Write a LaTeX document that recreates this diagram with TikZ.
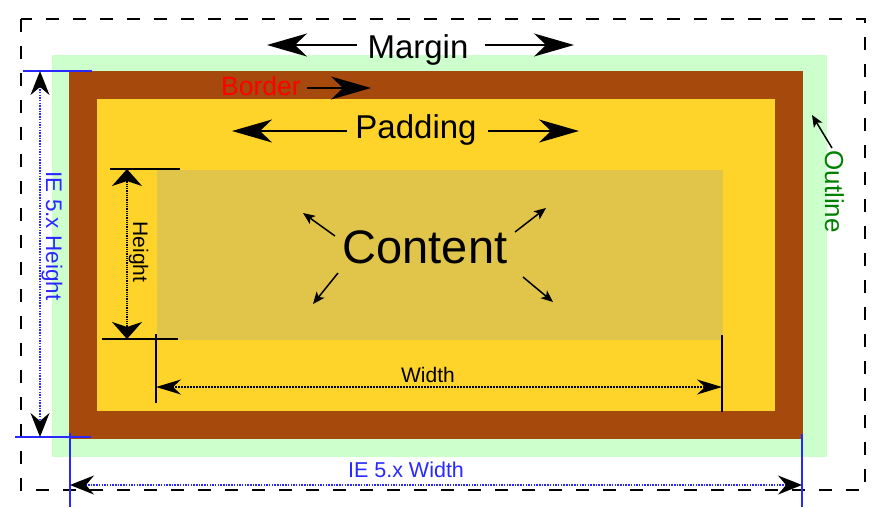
\documentclass[tikz,border=0pt]{standalone}
\usepackage{fontspec}
\setmainfont{Liberation Sans}
\usetikzlibrary{arrows.meta}
\definecolor{marginfill}{RGB}{204,255,204}
\definecolor{borderfill}{RGB}{165,74,12}
\definecolor{paddingfill}{RGB}{255,212,42}
\definecolor{contentfill}{RGB}{225,196,74}
\definecolor{ieblue}{RGB}{40,40,255}
\definecolor{outlinegreen}{RGB}{0,128,0}
\begin{document}
\begin{tikzpicture}[x=1pt,y=-1pt,
  lbl/.style={inner sep=0pt,anchor=base},
  bigarrow/.style={line width=1.8pt,-{Stealth[length=40pt,width=23pt,inset=12pt]}},
  smallarrow/.style={line width=1.5pt,-{Stealth[length=12pt,width=10pt,inset=3pt]}},
  heightarrow/.style={line width=1.6pt,dash pattern=on 1pt off 0.8pt,{Stealth[length=17pt,width=30pt,inset=5pt]}-{Stealth[length=17pt,width=30pt,inset=5pt]}},
  widtharrow/.style={line width=1.6pt,dash pattern=on 1.5pt off 1.5pt,{Stealth[length=25pt,width=15pt,inset=8pt]}-{Stealth[length=25pt,width=15pt,inset=8pt]}},
  iearrow/.style={ieblue,line width=1.5pt,dash pattern=on 1.5pt off 1.2pt,{Stealth[length=24pt,width=19pt,inset=8pt,black]}-{Stealth[length=24pt,width=19pt,inset=8pt,black]}},
  tick/.style={line width=1.3pt},
  ietick/.style={ieblue,line width=1.5pt},
  boxdash/.style={line width=1.5pt,dash pattern=on 13pt off 14pt}
]
\useasboundingbox (0,0) rectangle (880,507);
% box layers
\fill[marginfill] (52,55) rectangle (827,457);
\fill[borderfill] (69,71) rectangle (803,439);
\fill[paddingfill] (97,99) rectangle (775,411);
\fill[contentfill] (157,170) rectangle (723,340);
\draw[boxdash] (21,19) rectangle (865,490);

% labels
\node[lbl,font=\fontsize{33}{40}\selectfont] (margin) at (418,58) {Margin};
\node[lbl,font=\fontsize{26.5}{32}\selectfont,text=red] (border) at (261,95) {Border};
\node[lbl,font=\fontsize{33}{40}\selectfont] (padding) at (416,138) {Padding};
\node[lbl,font=\fontsize{47}{56}\selectfont] (content) at (425,263) {Content};
\node[lbl,font=\fontsize{21}{25}\selectfont] (width) at (428,382) {Width};
\node[lbl,font=\fontsize{21.5}{26}\selectfont,text=ieblue] (iewidth) at (406,477) {IE 5.x Width};
\node[lbl,rotate=-90,font=\fontsize{21}{25}\selectfont] (height) at (133,252) {Height};
\node[lbl,rotate=-90,font=\fontsize{22.5}{27}\selectfont,text=ieblue] (ieheight) at (46,236) {IE 5.x Height};
\node[lbl,rotate=-90,font=\fontsize{26}{31}\selectfont,text=outlinegreen] (outline) at (825,191.5) {Outline};

% arrow end coordinates
\coordinate (mL0) at (357,45); \coordinate (mL1) at (267,45);
\coordinate (mR0) at (485,45); \coordinate (mR1) at (574,45);
\coordinate (b0) at (307,88);  \coordinate (b1) at (371,88);
\coordinate (pL0) at (347,131); \coordinate (pL1) at (232,131);
\coordinate (pR0) at (488,131); \coordinate (pR1) at (579,131);
\coordinate (c1a) at (335,236); \coordinate (c1b) at (303,213);
\coordinate (c2a) at (515,232); \coordinate (c2b) at (546,208);
\coordinate (c3a) at (338,273); \coordinate (c3b) at (313,304);
\coordinate (c4a) at (523,277); \coordinate (c4b) at (553,302);
\coordinate (o0) at (832,148); \coordinate (o1) at (812,115);

\draw[bigarrow] (mL0) -- (mL1);
\draw[bigarrow] (mR0) -- (mR1);
\draw[bigarrow] (b0) -- (b1);
\draw[bigarrow] (pL0) -- (pL1);
\draw[bigarrow] (pR0) -- (pR1);
\draw[smallarrow] (c1a) -- (c1b);
\draw[smallarrow] (c2a) -- (c2b);
\draw[smallarrow] (c3a) -- (c3b);
\draw[smallarrow] (c4a) -- (c4b);
\draw[smallarrow] (o0) -- (o1);

% height measure
\coordinate (hT0) at (110,169); \coordinate (hT1) at (180,169);
\coordinate (hB0) at (102,339); \coordinate (hB1) at (178,339);
\coordinate (hA0) at (127,169); \coordinate (hA1) at (127,339);
\draw[tick] (hT0) -- (hT1);
\draw[tick] (hB0) -- (hB1);
\draw[heightarrow] (hA0) -- (hA1);

% width measure
\coordinate (wL0) at (156,334); \coordinate (wL1) at (156,403);
\coordinate (wR0) at (722,335); \coordinate (wR1) at (722,412);
\coordinate (wA0) at (156,387); \coordinate (wA1) at (722,387);
\draw[tick] (wL0) -- (wL1);
\draw[tick] (wR0) -- (wR1);
\draw[widtharrow] (wA0) -- (wA1);

% IE height
\coordinate (ihT0) at (23,71); \coordinate (ihT1) at (92,71);
\coordinate (ihB0) at (15,437); \coordinate (ihB1) at (91,437);
\coordinate (ihA0) at (40,71); \coordinate (ihA1) at (40,437);
\draw[ietick] (ihT0) -- (ihT1);
\draw[ietick] (ihB0) -- (ihB1);
\draw[iearrow] (ihA0) -- (ihA1);

% IE width
\coordinate (iwL0) at (70,433); \coordinate (iwL1) at (70,507);
\coordinate (iwR0) at (802,434); \coordinate (iwR1) at (802,507);
\coordinate (iwA0) at (70,485); \coordinate (iwA1) at (802,485);
\draw[ietick] (iwL0) -- (iwL1);
\draw[ietick] (iwR0) -- (iwR1);
\draw[iearrow] (iwA0) -- (iwA1);
\end{tikzpicture}
\end{document}
